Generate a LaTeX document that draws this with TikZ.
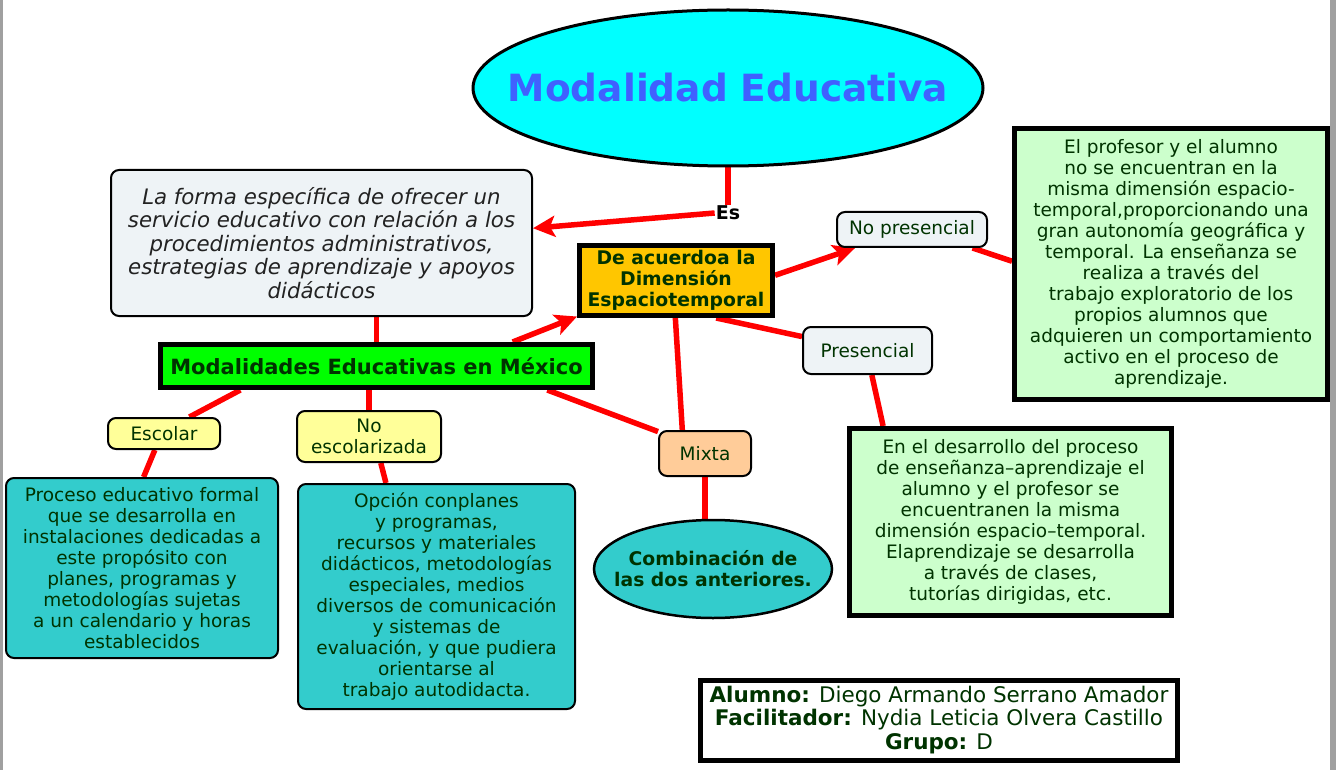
\documentclass[tikz,border=0pt]{standalone}
\usepackage{fontspec}
\setmainfont{DejaVu Sans}[ItalicFont={DejaVu Sans Oblique},BoldFont={DejaVu Sans Bold},BoldItalicFont={DejaVu Sans Bold Oblique}]
\usetikzlibrary{shapes.geometric,arrows.meta,calc}
\pgfdeclarelayer{bg}
\pgfdeclarelayer{paper}
\pgfsetlayers{paper,bg,main}
\definecolor{txtgreen}{HTML}{003300}
\definecolor{txtgrey}{HTML}{222222}
\definecolor{titleblue}{HTML}{4060FF}
\definecolor{titlecyan}{HTML}{00FFFF}
\definecolor{lightbox}{HTML}{EEF3F6}
\definecolor{mexgreen}{HTML}{00FF00}
\definecolor{goldbox}{HTML}{FFC600}
\definecolor{palegreen}{HTML}{CCFFCC}
\definecolor{peachbox}{HTML}{FFCC99}
\definecolor{tealbox}{HTML}{33CCCC}
\definecolor{yellowbox}{HTML}{FFFF99}
\definecolor{edgegray}{HTML}{A0A0A0}
\newcommand\mRegFont{\fontsize{18.5}{21}\selectfont}
\newcommand\mBoldFont{\fontsize{18.8}{20.8}\selectfont\bfseries}
\begin{document}
\begin{tikzpicture}[x=1pt,y=-1pt,
  basebox/.style={draw=black, inner sep=0pt, align=center, text=txtgreen, font=\mRegFont},
  roundbox/.style={basebox, rounded corners=8pt, line width=2pt},
  thickbox/.style={basebox, line width=5pt},
  link/.style={draw=red, line width=5.5pt},
  arrowlink/.style={link, -{Stealth[length=22pt,width=21pt,inset=5pt]}}]
\useasboundingbox (0,0) rectangle (1336,770);
\begin{pgfonlayer}{paper}
\fill[white] (0,0) rectangle (1336,770);
\fill[edgegray] (0,0) rectangle (3,770);
\fill[edgegray] (1330,0) rectangle (1336,770);
\end{pgfonlayer}

\node[ellipse, draw=black, line width=3pt, fill=titlecyan, minimum width=510pt, minimum height=156pt, inner sep=0pt] (title) at (728,88) {};
\node[inner sep=0pt, text=titleblue, font=\fontsize{37.5}{40}\selectfont\bfseries] (titletext) at (title.center) {Modalidad Educativa};

\node[inner sep=1pt, text=black, font=\fontsize{19}{21}\selectfont\bfseries] (es) at (728,213) {Es};

\node[roundbox, fill=lightbox, text=txtgrey, minimum width=421pt, minimum height=146pt, font=\fontsize{21.3}{23.5}\selectfont\itshape] (forma) at (321.5,243) {La forma específica de ofrecer un\\servicio educativo con relación a los\\procedimientos administrativos,\\estrategias de aprendizaje y apoyos\\didácticos};

\node[thickbox, fill=mexgreen, minimum width=432pt, minimum height=43pt, font=\fontsize{21}{23}\selectfont\bfseries] (mex) at (376.5,366) {Modalidades Educativas en México};

\node[thickbox, fill=goldbox, minimum width=193pt, minimum height=70pt, font=\mBoldFont] (dim) at (676,280.5) {De acuerdoa la\\Dimensión\\Espaciotemporal};

\node[roundbox, fill=lightbox, minimum width=150pt, minimum height=35pt] (nopres) at (912,229.5) {No presencial};

\node[thickbox, fill=palegreen, minimum width=313pt, minimum height=271pt] (txt1) at (1171,264) {El profesor y el alumno\\no se encuentran en la\\misma dimensión espacio-\\temporal,proporcionando una\\gran autonomía geográfica y\\temporal. La enseñanza se\\realiza a través del\\trabajo exploratorio de los\\propios alumnos que\\adquieren un comportamiento\\activo en el proceso de\\aprendizaje.};

\node[roundbox, fill=lightbox, minimum width=129pt, minimum height=47pt] (pres) at (867.5,350.5) {Presencial};

\node[thickbox, fill=palegreen, minimum width=322pt, minimum height=187pt] (txt2) at (1010.5,522) {En el desarrollo del proceso\\de enseñanza–aprendizaje el\\alumno y el profesor se\\encuentranen la misma\\dimensión espacio–temporal.\\Elaprendizaje se desarrolla\\a través de clases,\\tutorías dirigidas, etc.};

\node[roundbox, fill=peachbox, minimum width=92pt, minimum height=45pt] (mixta) at (705,453.5) {Mixta};

\node[ellipse, draw=black, line width=2.5pt, fill=tealbox, inner sep=0pt, minimum width=238pt, minimum height=98pt] (comb) at (713,569) {};
\node[inner sep=0pt, align=center, text=txtgreen, font=\mBoldFont] (combtext) at (comb.center) {Combinación de\\las dos anteriores.};

\node[roundbox, fill=yellowbox, minimum width=112pt, minimum height=31pt] (escolar) at (164,433.5) {Escolar};

\node[roundbox, fill=yellowbox, minimum width=144pt, minimum height=51pt] (noesc) at (369,436.5) {No\\escolarizada};

\node[roundbox, fill=tealbox, minimum width=272pt, minimum height=180pt] (teal1) at (142,568) {Proceso educativo formal\\que se desarrolla en\\instalaciones dedicadas a\\este propósito con\\planes, programas y\\metodologías sujetas\\a un calendario y horas\\establecidos};

\node[roundbox, fill=tealbox, minimum width=277pt, minimum height=225pt] (teal2) at (436.5,596.5) {Opción conplanes\\y programas,\\recursos y materiales\\didácticos, metodologías\\especiales, medios\\diversos de comunicación\\y sistemas de\\evaluación, y que pudiera\\orientarse al\\trabajo autodidacta.};

\node[thickbox, fill=white, minimum width=477pt, minimum height=80pt, font=\fontsize{21.5}{23.3}\selectfont] (alumno) at (939,720) {\textbf{Alumno:} Diego Armando Serrano Amador\\\textbf{Facilitador:} Nydia Leticia Olvera Castillo\\\textbf{Grupo:} D};

\begin{pgfonlayer}{bg}
\draw[link] (title.south) -- (es.north);
\draw[arrowlink] (es.west) -- (forma.4);
\draw[link] (forma.south -| mex.north) -- (mex.north);
\draw[arrowlink] (mex.10) -- (dim.200);
\draw[arrowlink] (dim.3) -- (nopres.198);
\draw[link] (nopres.343) -- (txt1.179);
\draw[link] (dim.317.6) -- (pres.168);
\draw[link] (pres.280) -- (txt2.143.5);
\draw[link] (dim.269) -- (mixta.134);
\draw[link] (mex.352) -- (mixta.155);
\draw[link] (mixta.south) -- (mixta.south |- comb.north);
\draw[link] (mex.190) -- (escolar.33);
\draw[link] (escolar.241) -- (teal1.89);
\draw[link] (noesc.north |- mex.south) -- (noesc.north);
\draw[link] (noesc.294.4) -- (teal2.114.4);
\end{pgfonlayer}
\end{tikzpicture}
\end{document}
